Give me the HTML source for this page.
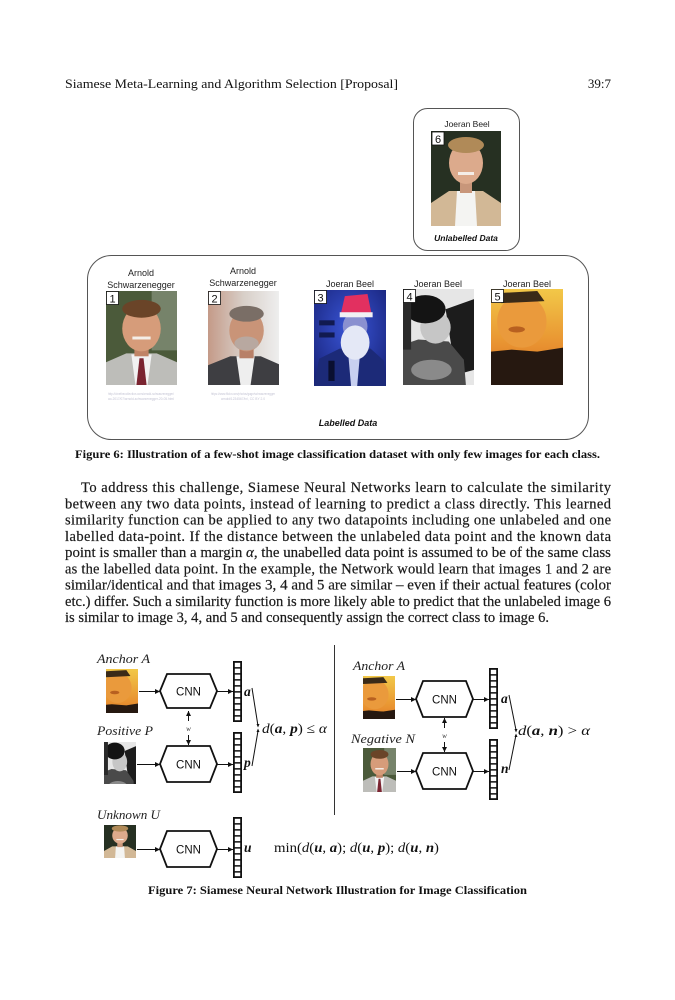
<!DOCTYPE html>
<html><head><meta charset="utf-8">
<style>
html,body{margin:0;padding:0;background:#fff;}
body{width:675px;height:1000px;overflow:hidden;position:relative;}
svg{position:absolute;left:0;top:0;}
.serif{font-family:"Liberation Serif",serif;}
.sans{font-family:"Liberation Sans",sans-serif;}
</style></head>
<body>
<svg width="675" height="1000" viewBox="0 0 675 1000" xmlns="http://www.w3.org/2000/svg">
<defs>
<marker id="ah" viewBox="0 0 6 6" refX="6" refY="3" markerWidth="5" markerHeight="5" orient="auto"><path d="M0,0 L6,3 L0,6 z" fill="#111"/></marker>
<linearGradient id="g2" x1="0" y1="0" x2="1" y2="0"><stop offset="0" stop-color="#c49a88"/><stop offset="0.5" stop-color="#d8cfc8"/><stop offset="1" stop-color="#eeeeee"/></linearGradient>
<radialGradient id="g3" cx="0.5" cy="0.4" r="0.7"><stop offset="0" stop-color="#3a56d8"/><stop offset="1" stop-color="#18237a"/></radialGradient>
<linearGradient id="g5" x1="0" y1="0" x2="0" y2="1"><stop offset="0" stop-color="#f2c848"/><stop offset="0.6" stop-color="#e89030"/><stop offset="1" stop-color="#c86818"/></linearGradient>
<symbol id="p1" viewBox="0 0 70 95" preserveAspectRatio="none">
<rect width="70" height="95" fill="#4b5a3a"/><rect x="45" width="25" height="60" fill="#76836a"/>
<path d="M0,72 L20,63 L50,63 L70,72 L70,95 L0,95z" fill="#bdbdb9"/>
<path d="M25,64 L45,64 L41,95 L29,95z" fill="#f2f2f2"/>
<path d="M33,68 L37,68 L40,95 L30,95z" fill="#7a2430"/>
<rect x="28" y="52" width="14" height="14" fill="#c08466"/>
<ellipse cx="35" cy="38" rx="19" ry="23" fill="#d69c7a"/>
<ellipse cx="35" cy="18" rx="19" ry="9" fill="#6a4428"/>
<rect x="26" y="46" width="18" height="3" fill="#f4eee8"/>
</symbol>
<symbol id="p2" viewBox="0 0 70 95" preserveAspectRatio="none">
<rect width="70" height="95" fill="url(#g2)"/>
<path d="M0,75 L22,66 L52,66 L70,74 L70,95 L0,95z" fill="#3e3e42"/>
<path d="M28,66 L46,66 L42,95 L32,95z" fill="#eeeeee"/>
<rect x="31" y="54" width="14" height="14" fill="#b88068"/>
<ellipse cx="38" cy="40" rx="17" ry="21" fill="#c99478"/>
<ellipse cx="38" cy="23" rx="17" ry="8" fill="#7a6e66"/>
<ellipse cx="38" cy="53" rx="12" ry="7" fill="#b8a8a0"/>
</symbol>
<symbol id="p3" viewBox="0 0 70 95" preserveAspectRatio="none">
<rect width="70" height="95" fill="url(#g3)"/>
<rect x="5" y="30" width="15" height="5" fill="#111a50"/><rect x="5" y="42" width="15" height="5" fill="#111a50"/>
<path d="M0,95 L5,68 L25,58 L55,58 L68,70 L70,95z" fill="#1c2a78"/>
<path d="M33,60 L45,60 L42,95 L36,95z" fill="#c8d0f0"/>
<ellipse cx="40" cy="36" rx="12" ry="14" fill="#8a90d0"/>
<ellipse cx="40" cy="52" rx="14" ry="17" fill="#e4e8f6"/>
<path d="M26,24 L30,6 L52,4 L56,24z" fill="#e23060"/>
<rect x="25" y="22" width="32" height="5" fill="#f0f0f4"/>
<rect x="14" y="70" width="6" height="20" fill="#0a0f30"/>
</symbol>
<symbol id="p4" viewBox="0 0 70 95" preserveAspectRatio="none">
<rect width="70" height="95" fill="#e6e6e6"/>
<path d="M42,20 L70,10 L70,80 L52,85z" fill="#1c1c1c"/>
<path d="M0,95 L0,55 L15,50 L45,52 L60,70 L62,95z" fill="#4a4a4a"/>
<ellipse cx="32" cy="38" rx="15" ry="16" fill="#c6c6c6"/>
<ellipse cx="22" cy="20" rx="20" ry="14" fill="#141414"/>
<rect x="0" y="0" width="8" height="60" fill="#2a2a2a"/>
<ellipse cx="28" cy="80" rx="20" ry="10" fill="#8a8a8a"/>
</symbol>
<symbol id="p5" viewBox="0 0 70 95" preserveAspectRatio="none">
<rect width="70" height="95" fill="url(#g5)"/>
<ellipse cx="30" cy="32" rx="24" ry="26" fill="#ea9a3c"/>
<path d="M0,95 L0,62 L20,60 L45,62 L70,58 L70,95z" fill="#261810"/>
<path d="M8,4 L45,2 L52,12 L10,14z" fill="#3a2a18"/>
<ellipse cx="25" cy="40" rx="8" ry="3" fill="#b86020"/>
</symbol>
<symbol id="p6" viewBox="0 0 70 95" preserveAspectRatio="none">
<rect width="70" height="95" fill="#263022"/>
<path d="M0,95 L0,72 L18,60 L52,60 L70,72 L70,95z" fill="#d2b896"/>
<path d="M26,60 L44,60 L46,95 L24,95z" fill="#f4f4f2"/>
<rect x="29" y="48" width="12" height="14" fill="#c8967a"/>
<ellipse cx="35" cy="32" rx="17" ry="21" fill="#dcaa8c"/>
<ellipse cx="35" cy="14" rx="18" ry="8" fill="#b08a58"/>
<rect x="27" y="41" width="16" height="3" fill="#f4eee8"/>
</symbol>
<symbol id="vec" viewBox="0 0 9 61" preserveAspectRatio="none">
<rect x="0.9" y="0.9" width="7.2" height="59.2" fill="#fff" stroke="#111" stroke-width="1.8"/>
<path d="M0,6.9 H9 M0,12.9 H9 M0,18.9 H9 M0,24.9 H9 M0,30.9 H9 M0,36.9 H9 M0,42.9 H9 M0,48.9 H9 M0,54.9 H9" stroke="#111" stroke-width="1.5"/>
</symbol>
</defs>

<!-- header -->
<text class="serif" x="65" y="88" font-size="13" textLength="333" lengthAdjust="spacingAndGlyphs" fill="#111">Siamese Meta-Learning and Algorithm Selection [Proposal]</text>
<text class="serif" x="611" y="88" font-size="13" text-anchor="end" fill="#111">39:7</text>

<!-- unlabelled box -->
<rect x="413.5" y="108.5" width="106" height="142" rx="14" fill="#fff" stroke="#555" stroke-width="1"/>
<text class="sans" x="467" y="127" font-size="8.5" text-anchor="middle" fill="#222">Joeran Beel</text>
<use href="#p6" x="431" y="131" width="70" height="95"/>
<rect x="432" y="132" width="12" height="13" fill="#fff" stroke="#111" stroke-width="0.8"/>
<text class="sans" x="438" y="143" font-size="11" text-anchor="middle" fill="#111">6</text>
<text class="sans" x="466" y="241" font-size="8.5" font-weight="bold" font-style="italic" text-anchor="middle" fill="#111">Unlabelled Data</text>

<!-- labelled box -->
<rect x="87.5" y="255.5" width="501" height="184" rx="24" fill="none" stroke="#555" stroke-width="1"/>
<g class="sans" font-size="9" fill="#222" text-anchor="middle">
<text x="141" y="276">Arnold</text><text x="141" y="288">Schwarzenegger</text>
<text x="243" y="274">Arnold</text><text x="243" y="286">Schwarzenegger</text>
<text x="350" y="287">Joeran Beel</text>
<text x="438" y="287">Joeran Beel</text>
<text x="527" y="287">Joeran Beel</text>
</g>
<use href="#p1" x="106" y="291" width="71" height="94"/>
<use href="#p2" x="208" y="291" width="71" height="94"/>
<use href="#p3" x="314" y="290" width="72" height="96"/>
<use href="#p4" x="403" y="289" width="71" height="96"/>
<use href="#p5" x="491" y="289" width="72" height="96"/>
<g class="sans" font-size="11" fill="#111" text-anchor="middle">
<rect x="106.5" y="291.5" width="12" height="13" fill="#fff" stroke="#111" stroke-width="0.8"/><text x="112.5" y="302.5">1</text>
<rect x="208.5" y="291.5" width="12" height="13" fill="#fff" stroke="#111" stroke-width="0.8"/><text x="214.5" y="302.5">2</text>
<rect x="314.5" y="290.5" width="12" height="13" fill="#fff" stroke="#111" stroke-width="0.8"/><text x="320.5" y="301.5">3</text>
<rect x="403.5" y="289.5" width="12" height="13" fill="#fff" stroke="#111" stroke-width="0.8"/><text x="409.5" y="300.5">4</text>
<rect x="491.5" y="289.5" width="12" height="13" fill="#fff" stroke="#111" stroke-width="0.8"/><text x="497.5" y="300.5">5</text>
</g>
<g class="sans" font-size="3.6" fill="#c4c4d4" text-anchor="middle">
<text x="141" y="395" textLength="66" lengthAdjust="spacingAndGlyphs">http://cinethecollection.com/arnold-schwarzenegger/</text>
<text x="141" y="400" textLength="66" lengthAdjust="spacingAndGlyphs">ao-2017/07/arnold-schwarzenegger-20-05.html</text>
<text x="243" y="395" textLength="64" lengthAdjust="spacingAndGlyphs">https://www.flickr.com/photos/gage/schwarzenegger</text>
<text x="243" y="400" textLength="44" lengthAdjust="spacingAndGlyphs">arnold/1234567/in/, CC BY 2.0</text>
</g>
<text class="sans" x="348" y="426" font-size="9" font-weight="bold" font-style="italic" text-anchor="middle" fill="#111">Labelled Data</text>

<!-- fig 6 caption -->
<text class="serif" x="75" y="458" font-size="11.2" font-weight="bold" textLength="525" lengthAdjust="spacingAndGlyphs" fill="#111">Figure 6: Illustration of a few-shot image classification dataset with only few images for each class.</text>

<!-- paragraph -->
<g class="serif" font-size="14.5" fill="#1a1a1a" stroke="#1a1a1a" stroke-width="0.2">
<text x="81" y="492" textLength="530" lengthAdjust="spacing">To address this challenge, Siamese Neural Networks learn to calculate the similarity</text>
<text x="65" y="508.3" textLength="546" lengthAdjust="spacing">between any two data points, instead of learning to predict a class directly. This learned</text>
<text x="65" y="524.5" textLength="546" lengthAdjust="spacing">similarity function can be applied to any two datapoints including one unlabeled and one</text>
<text x="65" y="540.8" textLength="546" lengthAdjust="spacing">labelled data-point. If the distance between the unlabeled data point and the known data</text>
<text x="65" y="557" textLength="546" lengthAdjust="spacingAndGlyphs">point is smaller than a margin <tspan font-style="italic">α</tspan>, the unabelled data point is assumed to be of the same class</text>
<text x="65" y="573.3" textLength="546" lengthAdjust="spacing">as the labelled data point. In the example, the Network would learn that images 1 and 2 are</text>
<text x="65" y="589.5" textLength="546" lengthAdjust="spacingAndGlyphs">similar/identical and that images 3, 4 and 5 are similar – even if their actual features (color</text>
<text x="65" y="605.8" textLength="546" lengthAdjust="spacingAndGlyphs">etc.) differ. Such a similarity function is more likely able to predict that the unlabeled image 6</text>
<text x="65" y="622" textLength="484" lengthAdjust="spacingAndGlyphs">is similar to image 3, 4, and 5 and consequently assign the correct class to image 6.</text>
</g>

<!-- figure 7 -->
<g class="serif" font-style="italic" font-size="13" fill="#222">
<text x="97" y="663" textLength="53" lengthAdjust="spacingAndGlyphs">Anchor A</text>
<text x="97" y="735" textLength="56" lengthAdjust="spacingAndGlyphs">Positive P</text>
<text x="97" y="819" textLength="63" lengthAdjust="spacingAndGlyphs">Unknown U</text>
<text x="353" y="670" textLength="52" lengthAdjust="spacingAndGlyphs">Anchor A</text>
<text x="351" y="743" textLength="64" lengthAdjust="spacingAndGlyphs">Negative N</text>
</g>
<!-- thumbnails -->
<svg x="106" y="669" width="32" height="44" viewBox="10 0 55 75" preserveAspectRatio="none"><use href="#p5" x="0" y="0" width="70" height="95"/></svg>
<svg x="104" y="742" width="32" height="42" viewBox="0 5 65 70" preserveAspectRatio="none"><use href="#p4" x="0" y="0" width="70" height="95"/></svg>
<svg x="104" y="825" width="32" height="33" viewBox="0 5 70 85" preserveAspectRatio="none"><use href="#p6" x="0" y="0" width="70" height="95"/></svg>
<svg x="363" y="676" width="32" height="43" viewBox="10 0 55 75" preserveAspectRatio="none"><use href="#p5" x="0" y="0" width="70" height="95"/></svg>
<svg x="363" y="748" width="33" height="44" viewBox="0 5 70 90" preserveAspectRatio="none"><use href="#p1" x="0" y="0" width="70" height="95"/></svg>

<!-- CNNs -->
<g fill="#fff" stroke="#111" stroke-width="1.8">
<polygon points="160,691 167,674 210,674 217,691 210,708 167,708"/>
<polygon points="160,764 167,746 210,746 217,764 210,782 167,782"/>
<polygon points="160,849 167,831 210,831 217,849 210,867 167,867"/>
<polygon points="416,699 423,681 466,681 473,699 466,717 423,717"/>
<polygon points="416,771 423,753 466,753 473,771 466,789 423,789"/>
</g>
<g class="sans" font-size="11.5" fill="#111" text-anchor="middle">
<text x="188.5" y="695.5">CNN</text>
<text x="188.5" y="768.5">CNN</text>
<text x="188.5" y="853.5">CNN</text>
<text x="444.5" y="703.5">CNN</text>
<text x="444.5" y="775.5">CNN</text>
</g>
<!-- arrows -->
<g stroke="#111" stroke-width="1" marker-end="url(#ah)">
<line x1="139" y1="691.5" x2="160" y2="691.5"/>
<line x1="217" y1="691.5" x2="233" y2="691.5"/>
<line x1="137" y1="764.5" x2="160" y2="764.5"/>
<line x1="217" y1="764.5" x2="233" y2="764.5"/>
<line x1="137" y1="849.5" x2="160" y2="849.5"/>
<line x1="217" y1="849.5" x2="233" y2="849.5"/>
<line x1="396" y1="699.5" x2="416" y2="699.5"/>
<line x1="473" y1="699.5" x2="489" y2="699.5"/>
<line x1="397" y1="771.5" x2="416" y2="771.5"/>
<line x1="473" y1="771.5" x2="489" y2="771.5"/>
<line x1="188.5" y1="721" x2="188.5" y2="711"/>
<line x1="188.5" y1="735" x2="188.5" y2="745"/>
<line x1="444.5" y1="728" x2="444.5" y2="718"/>
<line x1="444.5" y1="742" x2="444.5" y2="752"/>
</g>
<g class="serif" font-style="italic" font-size="7" fill="#333" text-anchor="middle">
<text x="188.5" y="731">w</text>
<text x="444.5" y="738">w</text>
</g>
<!-- vectors -->
<use href="#vec" x="233" y="661" width="9" height="61"/>
<use href="#vec" x="233" y="732" width="9" height="61"/>
<use href="#vec" x="233" y="817" width="9" height="61"/>
<use href="#vec" x="489" y="668" width="9" height="61"/>
<use href="#vec" x="489" y="739" width="9" height="61"/>
<g class="serif" font-style="italic" font-weight="bold" font-size="13.5" fill="#111">
<text x="244" y="696">a</text>
<text x="244" y="767">p</text>
<text x="244" y="852">u</text>
<text x="501" y="703">a</text>
<text x="501" y="773">n</text>
</g>
<!-- brackets -->
<g stroke="#111" stroke-width="1" fill="none">
<path d="M252,688 L258,726"/><path d="M252,766 L258,731"/>
<path d="M509,695 L516,730"/><path d="M509,770 L516,735"/>
</g>
<g fill="#111">
<path d="M256.5,724 L259.5,724 L258,727.5z"/><path d="M256.5,732 L259.5,732 L258,728.5z"/>
<path d="M514.5,729 L517.5,729 L516,732.5z"/><path d="M514.5,737 L517.5,737 L516,733.5z"/>
</g>
<g class="serif" font-size="14" fill="#111">
<text x="262" y="733" textLength="65" lengthAdjust="spacingAndGlyphs"><tspan font-style="italic">d</tspan>(<tspan font-weight="bold" font-style="italic">a</tspan>, <tspan font-weight="bold" font-style="italic">p</tspan>) ≤ <tspan font-style="italic">α</tspan></text>
<text x="518" y="735" textLength="72" lengthAdjust="spacingAndGlyphs"><tspan font-style="italic">d</tspan>(<tspan font-weight="bold" font-style="italic">a</tspan>, <tspan font-weight="bold" font-style="italic">n</tspan>) &gt; <tspan font-style="italic">α</tspan></text>
<text x="274" y="852" textLength="165" lengthAdjust="spacingAndGlyphs">min(<tspan font-style="italic">d</tspan>(<tspan font-weight="bold" font-style="italic">u</tspan>, <tspan font-weight="bold" font-style="italic">a</tspan>); <tspan font-style="italic">d</tspan>(<tspan font-weight="bold" font-style="italic">u</tspan>, <tspan font-weight="bold" font-style="italic">p</tspan>); <tspan font-style="italic">d</tspan>(<tspan font-weight="bold" font-style="italic">u</tspan>, <tspan font-weight="bold" font-style="italic">n</tspan>)</text>
</g>
<!-- divider -->
<line x1="334.5" y1="645" x2="334.5" y2="815" stroke="#333" stroke-width="1"/>

<!-- fig 7 caption -->
<text class="serif" x="148" y="894" font-size="11.5" font-weight="bold" textLength="379" lengthAdjust="spacingAndGlyphs" fill="#111">Figure 7: Siamese Neural Network Illustration for Image Classification</text>
</svg>
</body></html>
